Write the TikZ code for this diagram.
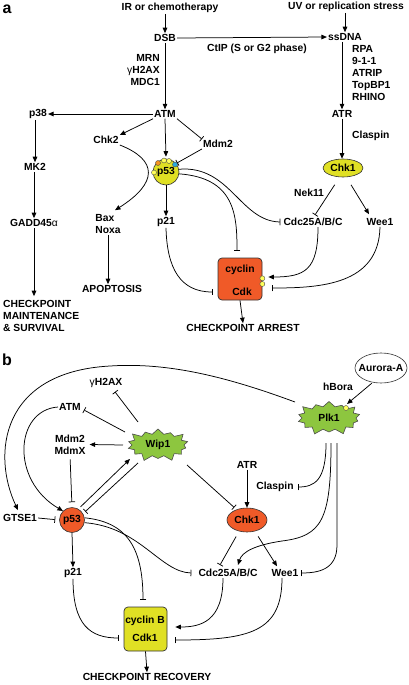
\documentclass[tikz,border=0pt]{standalone}
\usepackage{fontspec}
\setmainfont{Liberation Sans}
\usetikzlibrary{arrows.meta,shapes.geometric,shapes.symbols,calc}
\definecolor{orng}{RGB}{240,90,40}
\definecolor{yel}{RGB}{224,224,36}
\definecolor{grn}{RGB}{141,198,63}
\definecolor{cyel}{RGB}{255,255,90}
\definecolor{corg}{RGB}{247,148,29}
\definecolor{cblu}{RGB}{41,171,226}
\begin{document}
\begin{tikzpicture}[x=1pt,y=-1pt,
  every node/.style={font=\fontsize{10.3}{12}\selectfont\bfseries, inner sep=1pt},
  act/.style={-{Triangle[length=5.5pt,width=4.6pt]}, line width=0.75pt},
  inh/.style={-{Bar[width=6.5pt,line width=0.75pt]}, line width=0.75pt},
  circnode/.style={circle, draw=black!80, line width=0.6pt, inner sep=0pt},
  ellnode/.style={ellipse, draw=black!80, line width=0.6pt, inner sep=0pt},
  boxnode/.style={rectangle, rounded corners=4pt, draw=black!80, line width=0.7pt, inner sep=0pt},
  burst/.style={starburst, starburst points=14, starburst point height=7pt, draw=black!70, fill=grn, line width=0.6pt, inner sep=0pt},
  dot/.style={circle, draw=black!70, line width=0.4pt, inner sep=0pt, minimum size=5pt},
  panel/.style={font=\fontsize{16}{16}\selectfont\bfseries}
]
\fill[white] (0,0) rectangle (409,685);
\useasboundingbox (0,0) rectangle (409,685);

% ---------- panel a ----------
\node[panel] (la) at (7,9) {a};
\node (IR) at (170,8) {IR or chemotherapy};
\node (UV) at (346,7) {UV or replication stress};
\node (DSB) at (165,38) {DSB};
\node (ssDNA) at (345,37) {ssDNA};
\node (CtIP) at (257,49) {CtIP (S or G2 phase)};
\node[anchor=east, align=right] (MRN) at (161,70) {MRN\\{\mdseries γ}H2AX\\MDC1};
\node (ATM) at (165,114) {ATM};
\node (p38) at (38,114) {p38};
\node (MK2) at (35,167) {MK2};
\node (GADD) at (34,223) {GADD45{\mdseries α}};
\node[anchor=west, align=left] (CPM) at (2,316) {CHECKPOINT\\MAINTENANCE\\\& SURVIVAL};
\node (Chk2) at (106,140) {Chk2};
\node (Mdm2a) at (218,144) {Mdm2};
\node[circnode, fill=yel, minimum size=26pt] (p53a) at (166,172) {p53};
\node[align=left] (Bax) at (108,224) {Bax\\Noxa};
\node (APOP) at (112,289) {APOPTOSIS};
\node (p21a) at (166,222) {p21};
\node[boxnode, fill=orng, minimum width=44pt, minimum height=42pt] (boxA) at (240,279) {};
\node (cycA) at (240,270) {cyclin};
\node (cdkA) at (242,292) {Cdk};
\node (CPA) at (243,328) {CHECKPOINT ARREST};
\node (Cdc25a) at (313,222) {Cdc25A/B/C};
\node (Nek11) at (309,193) {Nek11};
\node (Wee1a) at (380,222) {Wee1};
\node (ATRa) at (342,114) {ATR};
\node[anchor=west, align=left] (RPA) at (351,73) {RPA\\9-1-1\\ATRIP\\TopBP1\\RHINO};
\node[anchor=west] (Claspa) at (351,136) {Claspin};
\node[ellnode, fill=yel, minimum width=40pt, minimum height=18pt] (Chk1a) at (343,168) {Chk1};

\node[dot, fill=corg] (pd1) at ($(p53a.center)+(-8,-9)$) {};
\node[dot, fill=cyel] (pd2) at ($(p53a.center)+(-2,-11.5)$) {};
\node[dot, fill=cyel] (pd3) at ($(p53a.center)+(3,-11)$) {};
\node[dot, fill=cblu] (pd4) at ($(p53a.center)+(9,-7.5)$) {};
\node[dot, fill=cyel] (pd5) at ($(p53a.center)+(-12,0.5)$) {};
\node[dot, fill=cyel] (bd1) at ($(boxA.east)+(0,-0.7)$) {};
\node[dot, fill=cyel] (bd2) at ($(boxA.east)+(0,5)$) {};

\draw[act] (IR.south -| DSB.north) -- (DSB.north);
\draw[act] (DSB.east) -- (ssDNA.west);
\draw[act] (UV.south -| ssDNA.north) -- (ssDNA.north);
\draw[act] (DSB.south) -- (ATM.north);
\draw[act] (ssDNA.south -| ATRa.north) -- (ATRa.north);
\draw[act] (ATRa.south) -- (ATRa.south |- Chk1a.north);
\draw[act] (ATM.west) -- (p38.east);
\draw[act] (p38.south -| MK2.north) -- (MK2.north);
\draw[act] (MK2.south -| GADD.north) -- (GADD.north);
\draw[act, shorten >=3pt] (GADD.south) -- (GADD.south |- CPM.north);
\draw[act] (ATM.south west) -- (Chk2.north east);
\draw[act, shorten >=2pt] (ATM.south) -- (p53a.north);
\draw[inh] (ATM.south east) -- (Mdm2a.north west);
\draw[inh, shorten >=1pt] (Mdm2a.south west) -- (p53a.40);
\draw[act] (Chk2.south east) .. controls (158,160) and (158,183) .. ($(Bax.north)+(7,-3)$);
\draw[act] (Bax.south) -- (Bax.south |- APOP.north);
\draw[act] (p53a.south) -- (p21a.north);
\draw[inh] (p21a.south) .. controls (167,268) and (180,292) .. ($(boxA.west)+(-5,13)$);
\draw[inh] (p53a.12) .. controls (230,165) and (240,221) .. ($(Cdc25a.west)+(-2,0)$);
\draw[inh] (p53a.-8) .. controls (235,178) and (237,215) .. ($(boxA.north)+(-3,-7)$);
\draw[inh, shorten <=9pt] (Chk1a.250) -- ($(Cdc25a.north)+(2,-2)$);
\draw[act, shorten <=9pt] (Chk1a.290) -- ($(Wee1a.north)+(-11,-3)$);
\draw[act] ($(Cdc25a.south)+(5,0)$) .. controls (318,270) and (305,277) .. ($(boxA.east)+(6,-2)$);
\draw[inh] (Wee1a.south) .. controls (379,285) and (320,288) .. ($(boxA.east)+(10,9)$);
\draw[act] (boxA.south) -- (CPA.north);

% ---------- panel b ----------
\node[panel] (lb) at (7,360) {b};
\node[ellnode, fill=white, minimum width=52pt, minimum height=30pt] (AurE) at (381,368) {};
\node (Aur) at (381,368) {Aurora-A};
\node (hBora) at (338,387) {hBora};
\node[burst, minimum width=68pt, minimum height=37pt] (Plk1) at (329,418) {Plk1};
\node[burst, minimum width=66pt, minimum height=36pt] (Wip1) at (158,445) {Wip1};
\node (gH) at (106,383) {{\mdseries γ}H2AX};
\node (ATMb) at (70,407) {ATM};
\node[align=center] (Mdm) at (70,444.5) {Mdm2\\MdmX};
\node (GTSE1) at (20,518) {GTSE1};
\node[circnode, fill=orng, minimum size=25pt] (p53b) at (72,520) {p53};
\node (ATRb) at (247,465) {ATR};
\node (Claspb) at (275,487) {Claspin};
\node[ellnode, fill=orng, minimum width=40pt, minimum height=24pt] (Chk1b) at (247,520) {Chk1};
\node (Cdc25b) at (228,573) {Cdc25A/B/C};
\node (Wee1b) at (285,573) {Wee1};
\node (p21b) at (73,573) {p21};
\node[boxnode, fill=yel, minimum width=43pt, minimum height=44pt] (boxB) at (145.5,629) {};
\node (cycB) at (145,621) {cyclin B};
\node (cdk1) at (145,638) {Cdk1};
\node (CPR) at (147,677) {CHECKPOINT RECOVERY};
\node[dot, fill=cyel] (pd7) at ($(Plk1.center)+(17,-10)$) {};

\draw[act, shorten <=1pt] (AurE.240) -- ($(Plk1.center)+(18,-14)$);
\draw[act] ($(Plk1.center)+(-34,-16)$) .. controls (230,378) and (170,362) .. (110,366) .. controls (0,372) and (-8,455) .. ($(GTSE1.north)+(-2,-3)$);
\draw[inh] ($(Wip1.center)+(-20,-23)$) -- ($(gH.south)+(9,3)$);
\draw[inh] ($(Wip1.center)+(-33,-13)$) -- ($(ATMb.east)+(2,3)$);
\draw[act] ($(Wip1.center)+(-35,0)$) -- ($(Mdm.east)+(3,0)$);
\draw[inh, shorten <=4pt, shorten >=5pt] (Mdm.south) -- (p53b.north);
\draw[act] (ATMb.west) .. controls (15,410) and (10,480) .. (p53b.135);
\draw[act, shorten <=3pt] (p53b.60) -- ($(Wip1.center)+(-28,14)$);
\draw[inh, shorten >=3pt] ($(Wip1.center)+(-20,18)$) -- (p53b.30);
\draw[inh, shorten >=4pt] (GTSE1.east) -- (p53b.west);
\draw[act] (ATRb.south) -- (Chk1b.north);
\draw[inh, shorten >=3pt] ($(Wip1.center)+(29,20)$) -- (Chk1b.135);
\draw[inh] ($(Plk1.center)+(-3,25)$) .. controls (326,480) and (315,487) .. ($(Claspb.east)+(3,0)$);
\draw[act] ($(Plk1.center)+(2,25)$) .. controls (331,520) and (322,536) .. (282,541) .. controls (255,545) and (242,552) .. ($(Cdc25b.north)+(10,-3)$);
\draw[inh] ($(Plk1.center)+(8,25)$) -- (337,545) .. controls (337,570) and (318,573) .. ($(Wee1b.east)+(1,0)$);
\draw[inh, shorten <=6pt] (Chk1b.235) -- ($(Cdc25b.north)+(-8,-3)$);
\draw[act, shorten <=6pt] (Chk1b.305) -- ($(Wee1b.north)+(-8,-2)$);
\draw[act] (p53b.south) -- (p21b.north);
\draw[inh] (p21b.south) .. controls (73,625) and (90,638) .. ($(boxB.west)+(-5,9)$);
\draw[inh] (p53b.10) .. controls (125,522) and (143,545) .. ($(boxB.north)+(-2.5,-7)$);
\draw[inh] (p53b.-12) .. controls (140,527) and (160,572) .. ($(Cdc25b.west)+(-6,0)$);
\draw[act] ($(Cdc25b.south)+(-5,0)$) .. controls (223,622) and (200,627) .. ($(boxB.east)+(8,-2)$);
\draw[inh] ($(Wee1b.south)+(-3,0)$) .. controls (282,632) and (250,640) .. ($(boxB.east)+(8,11)$);
\draw[act] (boxB.south) -- (CPR.north);
\end{tikzpicture}
\end{document}
